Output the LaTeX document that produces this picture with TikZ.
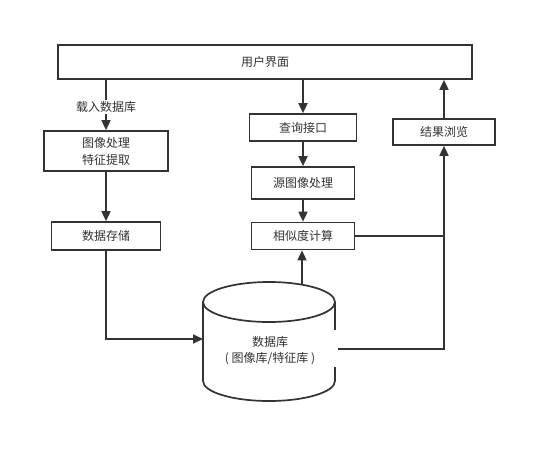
\documentclass[tikz,border=0pt]{standalone}
\usepackage{fontspec}
\setmainfont{Noto Sans CJK SC}
\usetikzlibrary{arrows.meta}
\definecolor{ink}{HTML}{333333}
\tikzset{
  box/.style={draw=ink, line width=1.7pt, rectangle, inner sep=0pt, text=ink, font=\fontsize{12}{17}\selectfont, align=center},
  conn/.style={draw=ink, line width=1.7pt},
  arr/.style={conn, -{Triangle[length=10pt,width=9pt]}},
  lbl/.style={text=ink, font=\fontsize{12}{16}\selectfont, inner sep=1pt}
}
\begin{document}
\begin{tikzpicture}[x=1pt,y=-1pt]
\useasboundingbox (0,0) rectangle (554,458);
\fill[white] (0,0) rectangle (554,458);
% boxes
\node[box, minimum width=414pt, minimum height=34pt] (ui) at (265,62) {用户界面};
\node[box, minimum width=124pt, minimum height=40pt] (img) at (106,151) {图像处理\\特征提取};
\node[box, minimum width=109pt, minimum height=28pt] (store) at (106,236) {数据存储};
\node[box, minimum width=107pt, minimum height=27pt] (query) at (303,127.5) {查询接口};
\node[box, minimum width=103pt, minimum height=32pt] (src) at (303,183) {源图像处理};
\node[box, minimum width=103pt, minimum height=27pt] (sim) at (303,236) {相似度计算};
\node[box, minimum width=102pt, minimum height=26pt] (browse) at (444,132) {结果浏览};
% cylinder
\fill[white] (203,302) -- (203,381) arc[start angle=180,end angle=360,x radius=66,y radius=-20] -- (335,302) -- cycle;
\draw[conn] (203,302) -- (203,381) arc[start angle=180,end angle=360,x radius=66,y radius=-20] -- (335,367);
\draw[conn] (335,330) -- (335,302);
\draw[conn] (269,302) ellipse[x radius=66,y radius=20];
\node[lbl, align=center] (db) at (270,350.5) {数据库\\( 图像库/特征库 )};
\coordinate (dbleft) at (203,339);
\coordinate (dbtop) at (302,284.5);
\coordinate (dbright) at (338,349);
\coordinate (join) at (444,236);
% label
\node[lbl] (load) at (106,107) {载入数据库};
% connectors
\draw[conn] (ui.south -| load) -- (load.north);
\draw[arr] (load.south) -- (img.north);
\draw[arr] (img) -- (store);
\draw[arr] (store.south) |- (dbleft);
\draw[arr] (ui.south -| query) -- (query);
\draw[arr] (query) -- (src);
\draw[arr] (src) -- (sim);
\draw[arr] (dbtop) -- (dbtop |- sim.south);
\draw[conn] (sim.east) -- (join);
\draw[arr] (dbright) -| (browse.south);
\draw[arr] (browse) -- (ui.south -| browse);
\end{tikzpicture}
\end{document}
